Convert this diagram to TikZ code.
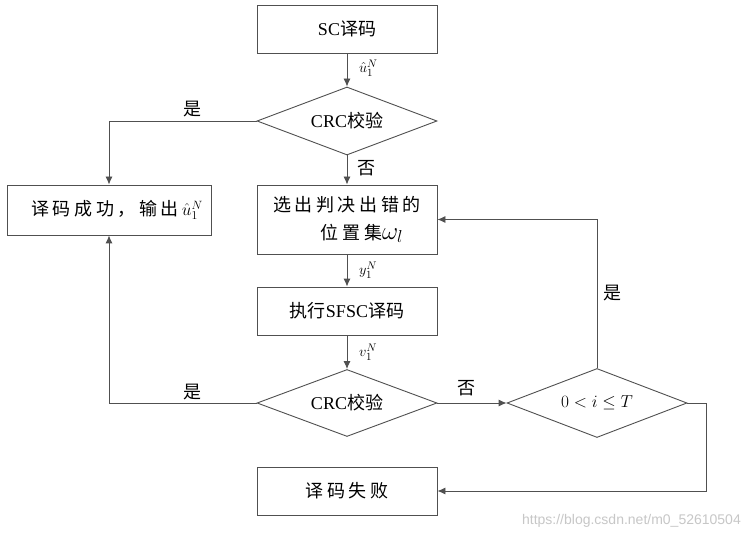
\documentclass[tikz,border=0pt]{standalone}
\usepackage{fontspec}
\setmainfont{Liberation Serif}
\newfontfamily\cjk{Noto Sans CJK SC}
\newfontfamily\cjkw[LetterSpace=20]{Noto Sans CJK SC}
\newfontfamily\wmfont{Liberation Sans}
\usetikzlibrary{arrows.meta,shapes.geometric}
\definecolor{ln}{HTML}{505050}
\begin{document}
\begin{tikzpicture}[x=1pt,y=-1pt,
  every node/.style={font=\fontsize{18}{28}\selectfont, text=black},
  box/.style={draw=ln, line width=0.9pt, minimum width=180pt, minimum height=48pt, inner sep=0pt, align=center},
  dia/.style={draw=ln, line width=0.9pt, diamond, minimum width=180pt, minimum height=68pt, inner sep=0pt, aspect=2.6},
  arr/.style={draw=ln, line width=0.9pt, -{Latex[length=8pt,width=7pt]}},
  lbl/.style={inner sep=0pt},
  sm/.style={inner sep=0pt, font=\fontsize{15}{17}\selectfont}]
\useasboundingbox (0,0) rectangle (749,537);
\fill[white] (0,0) rectangle (749,537);

\node[box] (sc) at (347,29) {SC{\cjk 译码}};
\node[dia] (crc1) at (347,121) {CRC{\cjk 校验}};
\node[box, minimum height=69pt] (sel) at (347,219.5) {{\cjkw 选出判决出错的}\\\hspace*{30pt}{\cjkw 位置集}{\fontsize{23}{28}\selectfont$\omega_l$}};
\node[box, minimum width=204pt, minimum height=50pt] (succ) at (109,210) {\hspace*{16pt}{\cjkw 译码成功，输出}\,$\hat{u}_1^N$};
\node[box] (sfsc) at (347,311) {{\cjk 执行}SFSC{\cjk 译码}};
\node[dia, minimum height=67pt] (crc2) at (347,403) {CRC{\cjk 校验}};
\node[dia, minimum height=69pt] (cond) at (597,403) {$0<i\leq T$};
\node[box] (fail) at (347,491) {{\cjkw 译码失败}};
\coordinate (rc) at (706,403);

\draw[arr] (sc) -- (crc1);
\draw[arr] (crc1.west) -| (succ.north);
\draw[arr] (crc1) -- (sel);
\draw[arr] (sel) -- (sfsc);
\draw[arr] (sfsc) -- (crc2);
\draw[arr] (crc2.west) -| (succ.south);
\draw[arr] (crc2.east) -- (cond.west);
\draw[arr] (cond.north) |- (sel.east);
\draw[arr] (cond.east) -- (rc) |- (fail.east);

\node[sm, anchor=west] (l1) at (359,68) {$\hat{u}_1^N$};
\node[sm, anchor=west] (l2) at (359,270) {$y_1^N$};
\node[sm, anchor=west] (l3) at (359,352) {$v_1^N$};
\node[lbl] (y1) at (192,109) {\cjk 是};
\node[lbl] (n1) at (366,168) {\cjk 否};
\node[lbl] (y2) at (192,392) {\cjk 是};
\node[lbl] (n2) at (466,388) {\cjk 否};
\node[lbl] (y3) at (612,293) {\cjk 是};
\node[inner sep=0pt, anchor=east, text=black!22, font=\wmfont\fontsize{14}{16}\selectfont] (wm) at (741,521) {https://blog.csdn.net/m0\_52610504};
\end{tikzpicture}
\end{document}
